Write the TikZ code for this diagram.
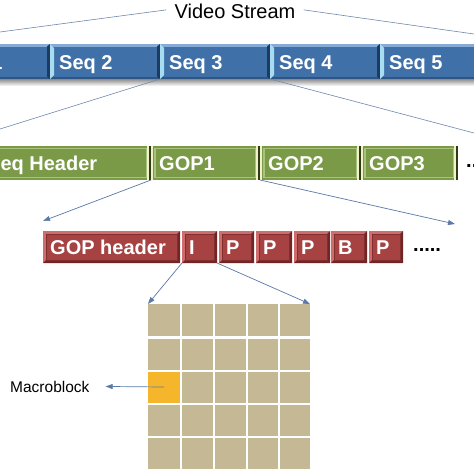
\documentclass[tikz,border=0pt]{standalone}
\usepackage{fontspec}
\setmainfont{Liberation Sans}
\usetikzlibrary{arrows.meta}
\definecolor{bmain}{HTML}{4070A8}
\definecolor{btop}{HTML}{86ABD6}
\definecolor{bbot}{HTML}{2F5585}
\definecolor{bdark}{HTML}{1F3A62}
\definecolor{blight}{HTML}{A6DDF0}
\definecolor{gmain}{HTML}{7A9A48}
\definecolor{gin}{HTML}{A9C27C}
\definecolor{gdark}{HTML}{2E3A18}
\definecolor{gcream}{HTML}{F2F2C8}
\definecolor{rmain}{HTML}{A64242}
\definecolor{rlight}{HTML}{CF6C6C}
\definecolor{rdark}{HTML}{702626}
\definecolor{cellc}{HTML}{C4B994}
\definecolor{mbc}{HTML}{F6B62B}
\definecolor{arrc}{HTML}{5A78A8}
\definecolor{linec}{HTML}{7088AE}
\tikzset{
  box/.style={inner sep=0pt, outer sep=0pt, draw=none},
  lab/.style={inner sep=0pt, text=white, font=\bfseries\fontsize{20}{20}\selectfont},
  plain/.style={inner sep=0pt, text=black},
  cellbox/.style={box, fill=cellc},
  thinline/.style={draw=linec, line width=0.6pt},
  arr/.style={draw=arrc, line width=0.7pt, -{Triangle[length=7pt,width=5pt]}},
}
\newcommand\bseg[4]{%
  \fill[bmain] (#2,44) rectangle (#3,79);
  \fill[btop] (#2,44) rectangle (#3,46.5);
  \fill[bbot] (#2,77) rectangle (#3,79);
  \fill[bdark] (#3-3,46.5) -- (#3,44) -- (#3,79) -- (#3-3,76.5) -- cycle;
  \fill[blight] (#2,44) -- (#2+4,48) -- (#2+4,75) -- (#2,79) -- cycle;
  \node[box, minimum width={#3-(#2)}, minimum height=35, anchor=north west] (#1) at (#2,44) {};
  \node[lab, anchor=base west] (#1t) at (#2+9,69) {#4};
}
\newcommand\gseg[4]{%
  \fill[gmain] (#2,146) rectangle (#3,180);
  \draw[gin, line width=1.6pt] (#2+4,148.5) rectangle (#3-4,177.5);
  \fill[gcream] (#2,146) rectangle (#2+1.8,180);
  \fill[gcream] (#3-4.2,146) rectangle (#3-2.4,180);
  \fill[gdark] (#3-2.4,146) rectangle (#3,180);
  \node[box, minimum width={#3-(#2)}, minimum height=34, anchor=north west] (#1) at (#2,146) {};
  \node[lab, anchor=base west] (#1t) at (#2+8,170) {#4};
}
\newcommand\rseg[4]{%
  \fill[rlight] (#2,231) rectangle (#3,263);
  \fill[rdark] (#3,231) -- (#3,263) -- (#2,263) -- (#2+3,260) -- (#3-3,260) -- (#3-3,234) -- cycle;
  \fill[rmain] (#2+3,234) rectangle (#3-3,260);
  \draw[rdark!70!rmain, line width=0.5pt] (#2+3,234) rectangle (#3-3,260);
  \node[box, minimum width={#3-(#2)}, minimum height=32, anchor=north west] (#1) at (#2,231) {};
  \node[lab, anchor=base west] (#1t) at (#2+7,254) {#4};
}
\begin{document}
\begin{tikzpicture}[x=1pt, y=-1pt]
\useasboundingbox (0,0) rectangle (474,474);
\fill[white] (0,0) rectangle (474,474);
\clip (0,0) rectangle (474,474);

% Video stream title
\node[plain, inner xsep=8pt, font=\fontsize{20}{20}\selectfont, anchor=base] (vs) at (235,18) {Video Stream};
\coordinate (vsL) at (0,32);
\coordinate (vsR) at (474,34);
\draw[thinline] ([yshift=1pt]vs.west) -- (vsL);
\draw[thinline] ([yshift=1pt]vs.east) -- (vsR);

% blue bar
\shade[top color=black!45, bottom color=white] (-10,79) rectangle (484,86);
\bseg{seq1}{-60}{50}{Seq 1}
\bseg{seq2}{50}{160}{Seq 2}
\bseg{seq3}{160}{270}{Seq 3}
\bseg{seq4}{270}{380}{Seq 4}
\bseg{seq5}{380}{490}{Seq 5}

\coordinate (zL) at (0,129);
\coordinate (zR) at (474,133);
\draw[thinline] (seq3.south west) -- (zL);
\draw[thinline] (seq4.south west) -- (zR);

% green bar
\gseg{hdr}{-21}{151}{Seq Header}
\gseg{gop1}{151}{260}{GOP1}
\gseg{gop2}{260}{361}{GOP2}
\gseg{gop3}{361}{458}{GOP3}
\node[plain, font=\bfseries\fontsize{20}{20}\selectfont, anchor=base west] (gdots) at (466,167) {.....};

% red bar
\rseg{gh}{43}{180}{GOP header}
\rseg{fI}{182}{217}{I}
\rseg{fPa}{219}{254}{P}
\rseg{fPb}{256}{292}{P}
\rseg{fPc}{294}{330}{P}
\rseg{fB}{331}{367}{B}
\rseg{fPd}{369}{403}{P}
\node[plain, font=\bfseries\fontsize{20}{20}\selectfont, anchor=base west] (rdots) at (413,251) {.....};

\coordinate (gR) at (455,224);
\draw[arr] (gop1.south west) -- ([yshift=10pt]gh.north west);
\draw[arr] (gop2.south west) -- (gR);

% grid
\foreach \r/\ya/\yb in {1/304/336,2/338.5/369.5,3/371.5/402.5,4/404.5/436,5/438/469}
  \foreach \c/\xa/\xb in {1/148/180,2/182/212.5,3/214.5/245.5,4/247.5/277.5,5/279.5/310}
    \node[cellbox, minimum width={\xb-\xa}, minimum height={\yb-\ya}, anchor=north west] (c\r\c) at (\xa,\ya) {};
\fill[mbc] (c31.north west) rectangle (c31.south east);

\draw[arr] (fI.south west) -- (c11.north west);
\draw[arr] (fI.south east) -- (c15.north east);

\node[plain, font=\fontsize{15.5}{15.5}\selectfont, anchor=base west] (mb) at (10,392) {Macroblock};
\draw[arr] (c31.center) -- ([xshift=16pt]mb.east);
\end{tikzpicture}
\end{document}
